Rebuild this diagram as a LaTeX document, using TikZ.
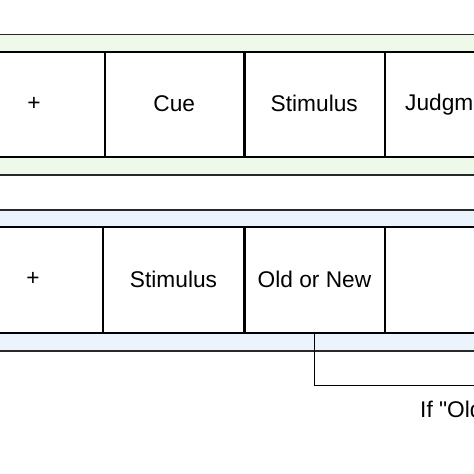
\documentclass[tikz,border=0pt]{standalone}
\usepackage{fontspec}
\setmainfont{Liberation Sans}
\newfontfamily\qfont{Liberation Sans}
\definecolor{bandgreen}{RGB}{239,249,233}
\definecolor{bandblue}{RGB}{235,244,252}
\definecolor{bandline}{RGB}{40,40,40}
\begin{document}
\begin{tikzpicture}[x=1bp,y=-1bp,
  band/.style={draw=bandline,line width=1.8bp},
  cell/.style={draw=black,fill=white,line width=1.9bp,inner sep=0pt,
    font=\fontsize{22.7bp}{27bp}\selectfont},
  link/.style={draw=black,line width=1.9bp},
  lbl/.style={inner sep=0pt,anchor=west,font=\qfont\fontsize{22.7bp}{27bp}\selectfont}]
\useasboundingbox (0,0) rectangle (474,474);
\clip (0,0) rectangle (474,474);
\fill[white] (0,0) rectangle (474,474);
% row 1
\path[band,fill=bandgreen] (-60,34.5) rectangle (620,175);
\node[cell,minimum width=142bp,minimum height=104.7bp] (a1) at (34,104.35) {\raisebox{1.5bp}{+}};
\node[cell,minimum width=138.5bp,minimum height=104.7bp] (a2) at (174.25,104.35) {\raisebox{1.5bp}{Cue}};
\node[cell,minimum width=141.5bp,minimum height=104.7bp] (a3) at (314.25,104.35) {\raisebox{1.5bp}{Stimulus}};
\node[cell,minimum width=140bp,minimum height=104.7bp] (a4) at (455,104.35) {\raisebox{1.5bp}{Judgment}};
\draw[line width=2.6bp] (a2.north east) -- (a2.south east);
% row 2
\path[band,fill=bandblue] (-60,210) rectangle (620,350.7);
\node[cell,minimum width=140bp,minimum height=105.7bp] (b1) at (33,279.85) {\raisebox{1.5bp}{+}};
\node[cell,minimum width=141bp,minimum height=105.7bp] (b2) at (173.5,279.85) {\raisebox{1.5bp}{Stimulus}};
\node[cell,minimum width=141bp,minimum height=105.7bp] (b3) at (314.5,279.85) {\raisebox{1.5bp}{Old or New}};
\node[cell,minimum width=140bp,minimum height=105.7bp] (b4) at (455,279.85) {};
\draw[line width=2.6bp] (b2.north east) -- (b2.south east);
% connector
\coordinate (e) at (620,385.5);
\draw[link] (b3.south) |- (e);
\node[lbl] (t) at (420,409) {If "Old"};
\end{tikzpicture}
\end{document}
